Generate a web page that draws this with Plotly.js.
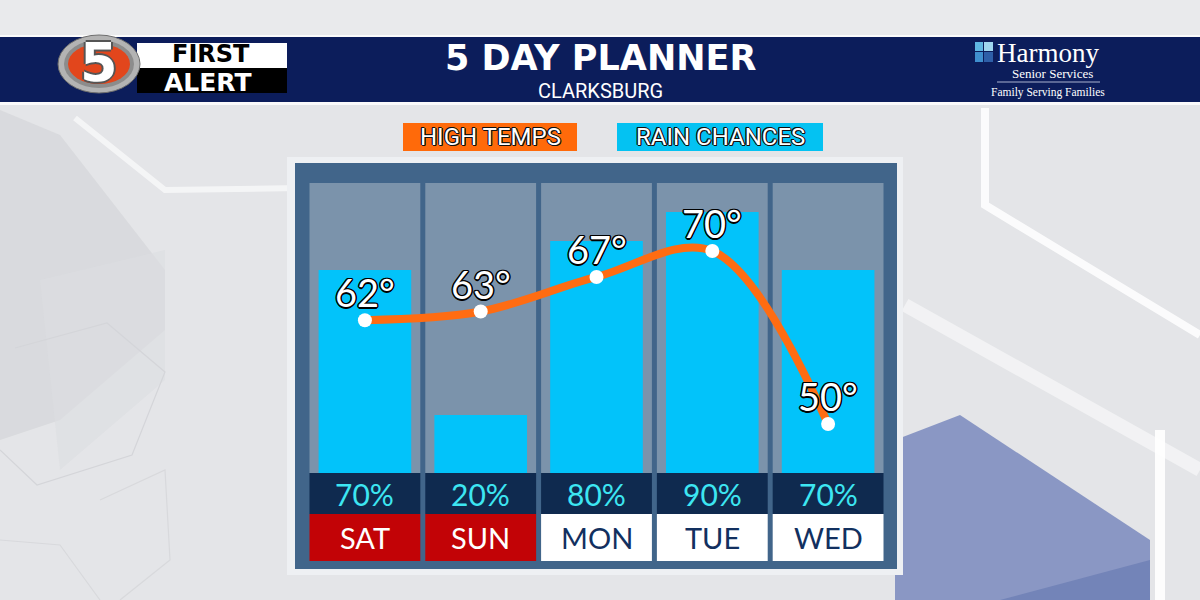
<!DOCTYPE html>
<html>
<head>
<meta charset="utf-8">
<script src="https://cdn.plot.ly/plotly-3.0.1.min.js"></script>
<style>
  html, body { margin: 0; padding: 0; background: #e4e5e8; }
  #chart { width: 1200px; height: 600px; }
</style>
</head>
<body>
<div id="chart"></div>
<script>
// ---------- DATA ----------
const days = ['SAT', 'SUN', 'MON', 'TUE', 'WED'];
const rainChance = [70, 20, 80, 90, 70];      // percent
const highTemps = [62, 63, 67, 70, 50];       // degrees F
const weekendDays = ['SAT', 'SUN'];
const chartTitle = '5 DAY PLANNER';
const chartSubtitle = 'CLARKSBURG';
const legendTemps = 'HIGH TEMPS';
const legendRain = 'RAIN CHANCES';

// ---------- HELPERS (pixel -> paper) ----------
const W = 1200, H = 600;
const px = x => x / W;
const py = y => 1 - y / H;
function rect(x0, y0, x1, y1, fill, extra) {
  return Object.assign({type: 'rect', xref: 'paper', yref: 'paper',
    x0: px(x0), x1: px(x1), y0: py(y1), y1: py(y0),
    fillcolor: fill, line: {width: 0}, layer: 'below'}, extra || {});
}
function pathShape(pts, fill, line, extra) {
  const d = pts.map((p, i) => (i ? 'L' : 'M') + ' ' + px(p[0]) + ' ' + py(p[1])).join(' ') + (fill ? ' Z' : '');
  return Object.assign({type: 'path', xref: 'paper', yref: 'paper', path: d,
    fillcolor: fill || 'rgba(0,0,0,0)', line: line || {width: 0}, layer: 'below'}, extra || {});
}
function ellipse(x0, y0, x1, y1, fill, line) {
  return {type: 'circle', xref: 'paper', yref: 'paper', x0: px(x0), x1: px(x1), y0: py(y1), y1: py(y0),
    fillcolor: fill, line: line || {width: 0}, layer: 'above'};
}
function txt(x, y, text, font, extra) {
  return Object.assign({xref: 'paper', yref: 'paper', x: px(x), y: py(y), text: text,
    showarrow: false, xanchor: 'center', yanchor: 'middle', font: font}, extra || {});
}

const outline = '1.5px 0 0 #000, -1.5px 0 0 #000, 0 1.5px 0 #000, 0 -1.5px 0 #000, 1px 1px 0 #000, -1px -1px 0 #000, 1px -1px 0 #000, -1px 1px 0 #000';
const outlineThin = '1.2px 0 0 #111, -1.2px 0 0 #111, 0 1.2px 0 #111, 0 -1.2px 0 #111, 1px 1px 0 #111, -1px -1px 0 #111';

// ---------- SHAPES ----------
const shapes = [
  // background decoration (soft)
  rect(0, 0, 1200, 37, '#e9eaec'),
  pathShape([[0,110],[60,135],[165,270],[165,330],[60,420],[0,440]], 'rgba(208,209,213,0.55)'),
  pathShape([[40,280],[165,250],[165,380],[60,470]], 'rgba(220,221,225,0.6)'),
  pathShape([[15,348],[107,323],[165,372],[132,455],[37,485],[0,450]], null, {color: '#d4d5d9', width: 1.2}),
  pathShape([[100,500],[165,470],[170,560],[120,600]], null, {color: '#d8d9dc', width: 1.2}),
  pathShape([[0,540],[60,545],[100,600]], null, {color: '#d8d9dc', width: 1.2}),
  pathShape([[75,118],[165,190],[300,188]], null, {color: 'rgba(255,255,255,0.6)', width: 6}),
  pathShape([[985,108],[985,205],[1200,335]], null, {color: 'rgba(255,255,255,0.85)', width: 8}),
  pathShape([[905,305],[1200,470]], null, {color: 'rgba(255,255,255,0.5)', width: 14}),
  pathShape([[895,440],[960,415],[1150,540],[1150,600],[895,600]], '#8a97c4'),
  pathShape([[1000,600],[1150,560],[1150,600]], '#7384b8'),
  pathShape([[1160,430],[1160,600]], null, {color: 'rgba(255,255,255,0.9)', width: 10}),
  // header band
  rect(0, 37, 1200, 102, '#0c1d5b'),
  rect(0, 35, 1200, 37, 'rgba(255,255,255,0.8)'),
  rect(0, 102, 1200, 105, 'rgba(255,255,255,0.8)'),
  // legend pills
  rect(403, 123, 577, 151, '#ff6a0a'),
  rect(617, 123, 823, 151, '#04c2f2'),
  // panel
  rect(287, 157, 903, 575, '#eef0f3'),
  rect(295, 163, 897, 569, '#41658a'),
  // logo boxes
  rect(137, 43, 287, 68, '#ffffff', {layer: 'above'}),
  rect(137, 68, 287, 93, '#000000', {layer: 'above'}),
  ellipse(58, 35, 140, 93, '#b3b3b3', {color: '#6e6e6e', width: 1}),
  ellipse(64, 40, 134, 88, '#8c8c8c'),
  ellipse(68, 44, 130, 84, '#e2461c'),
  // Harmony logo icon and rule
  rect(975, 42, 983, 51, '#5fb7e3', {layer: 'above'}),
  rect(984, 42, 993, 51, '#9fd6ef', {layer: 'above'}),
  rect(975, 52, 983, 62, '#3f8fcf', {layer: 'above'}),
  rect(984, 52, 993, 62, '#2e5fa8', {layer: 'above'}),
  {type: 'line', xref: 'paper', yref: 'paper', x0: px(997), x1: px(1100), y0: py(82), y1: py(82),
    line: {color: '#aab3d0', width: 1}, layer: 'above'}
];

// ---------- TRACES ----------
const fullScale = days.map(() => 100);
const stripDepth = days.map(() => 14.14);
const labelDepth = days.map(() => 16.2);

const traces = [
  { type: 'bar', x: days, y: fullScale, width: 0.957,
    marker: {color: '#7b93ab', line: {width: 0}}, hoverinfo: 'skip', yaxis: 'y' },
  { type: 'bar', x: days, y: stripDepth, base: days.map(() => -14.14), width: 0.957,
    marker: {color: '#0f2a4f', line: {width: 0}}, hoverinfo: 'skip', yaxis: 'y' },
  { type: 'bar', x: days, y: labelDepth, base: days.map(() => -30.34), width: 0.957,
    marker: {color: days.map(d => weekendDays.includes(d) ? '#c20306' : '#ffffff'), line: {width: 0}},
    hoverinfo: 'skip', yaxis: 'y' },
  { type: 'bar', x: days, y: rainChance, width: 0.80,
    marker: {color: '#02c3fa', line: {width: 0}}, hoverinfo: 'skip', yaxis: 'y' },
  { type: 'scatter', mode: 'lines+markers', x: days, y: highTemps, yaxis: 'y2',
    line: {color: '#ff6c12', width: 8, shape: 'spline', smoothing: 1},
    marker: {color: '#ffffff', size: 14, line: {width: 0}}, hoverinfo: 'skip' }
];

// ---------- ANNOTATIONS ----------
const annotations = [
  txt(600, 58, chartTitle, {family: 'DejaVu Sans', size: 35, color: '#ffffff', weight: 'bold'}),
  txt(600, 91, chartSubtitle, {family: 'Liberation Sans Narrow, Roboto, sans-serif', size: 20, color: '#ffffff'}),
  txt(99, 63, '5', {family: 'DejaVu Sans', size: 54, color: '#ffffff', weight: 'bold',
    shadow: '2px 0 0 #555, -2px 0 0 #555, 0 2px 0 #555, 0 -2px 0 #555'}),
  txt(211, 54, 'FIRST', {family: 'DejaVu Sans', size: 24, color: '#000000', weight: 'bold'}),
  txt(208, 82.5, 'ALERT', {family: 'DejaVu Sans', size: 25, color: '#ffffff', weight: 'bold'}),
  txt(1048, 53, 'Harmony', {family: 'Liberation Serif, DejaVu Serif, serif', size: 27, color: '#ffffff'}),
  txt(1052, 73, 'Senior Services', {family: 'Liberation Serif, DejaVu Serif, serif', size: 13, color: '#ffffff'}),
  txt(1048, 92, 'Family Serving Families', {family: 'Liberation Serif, DejaVu Serif, serif', size: 11.5, color: '#ffffff'}),
  txt(490, 137, legendTemps, {family: 'Roboto, sans-serif', size: 24, color: '#ffffff', shadow: outlineThin}),
  txt(720, 137, legendRain, {family: 'Roboto, sans-serif', size: 24, color: '#ffffff', shadow: outlineThin})
];

days.forEach((d, i) => {
  annotations.push({xref: 'x', yref: 'y', x: d, y: -7.07, text: rainChance[i] + '%', showarrow: false,
    xanchor: 'center', yanchor: 'middle',
    font: {family: 'Lato, sans-serif', size: 30, color: '#3de6f2'}});
  annotations.push({xref: 'x', yref: 'y', x: d, y: -22.1, text: d, showarrow: false,
    xanchor: 'center', yanchor: 'middle',
    font: {family: 'Lato, sans-serif', size: 29, color: weekendDays.includes(d) ? '#ffffff' : '#12305f'}});
  annotations.push({xref: 'x', yref: 'y2', x: d, y: highTemps[i], text: highTemps[i] + '°', showarrow: false,
    xanchor: 'center', yanchor: 'bottom', yshift: 3,
    font: {family: 'Lato, sans-serif', size: 38, color: '#ffffff', shadow: outline}});
});

// ---------- LAYOUT ----------
const layout = {
  width: W, height: H,
  margin: {l: 0, r: 0, t: 0, b: 0, pad: 0},
  paper_bgcolor: '#e4e5e8',
  plot_bgcolor: 'rgba(0,0,0,0)',
  showlegend: false,
  barmode: 'overlay',
  xaxis: {type: 'category', domain: [px(307), px(886)], range: [-0.5, 4.5],
    showgrid: false, zeroline: false, showticklabels: false, showline: false, ticks: '', fixedrange: true},
  yaxis: {domain: [py(561), py(183)], range: [-30.34, 100],
    showgrid: false, zeroline: false, showticklabels: false, showline: false, ticks: '', fixedrange: true},
  yaxis2: {overlaying: 'y', range: [34.16, 77.86],
    showgrid: false, zeroline: false, showticklabels: false, showline: false, ticks: '', fixedrange: true},
  shapes: shapes,
  annotations: annotations
};

Plotly.newPlot('chart', traces, layout, {displayModeBar: false, staticPlot: true});
</script>
</body>
</html>
